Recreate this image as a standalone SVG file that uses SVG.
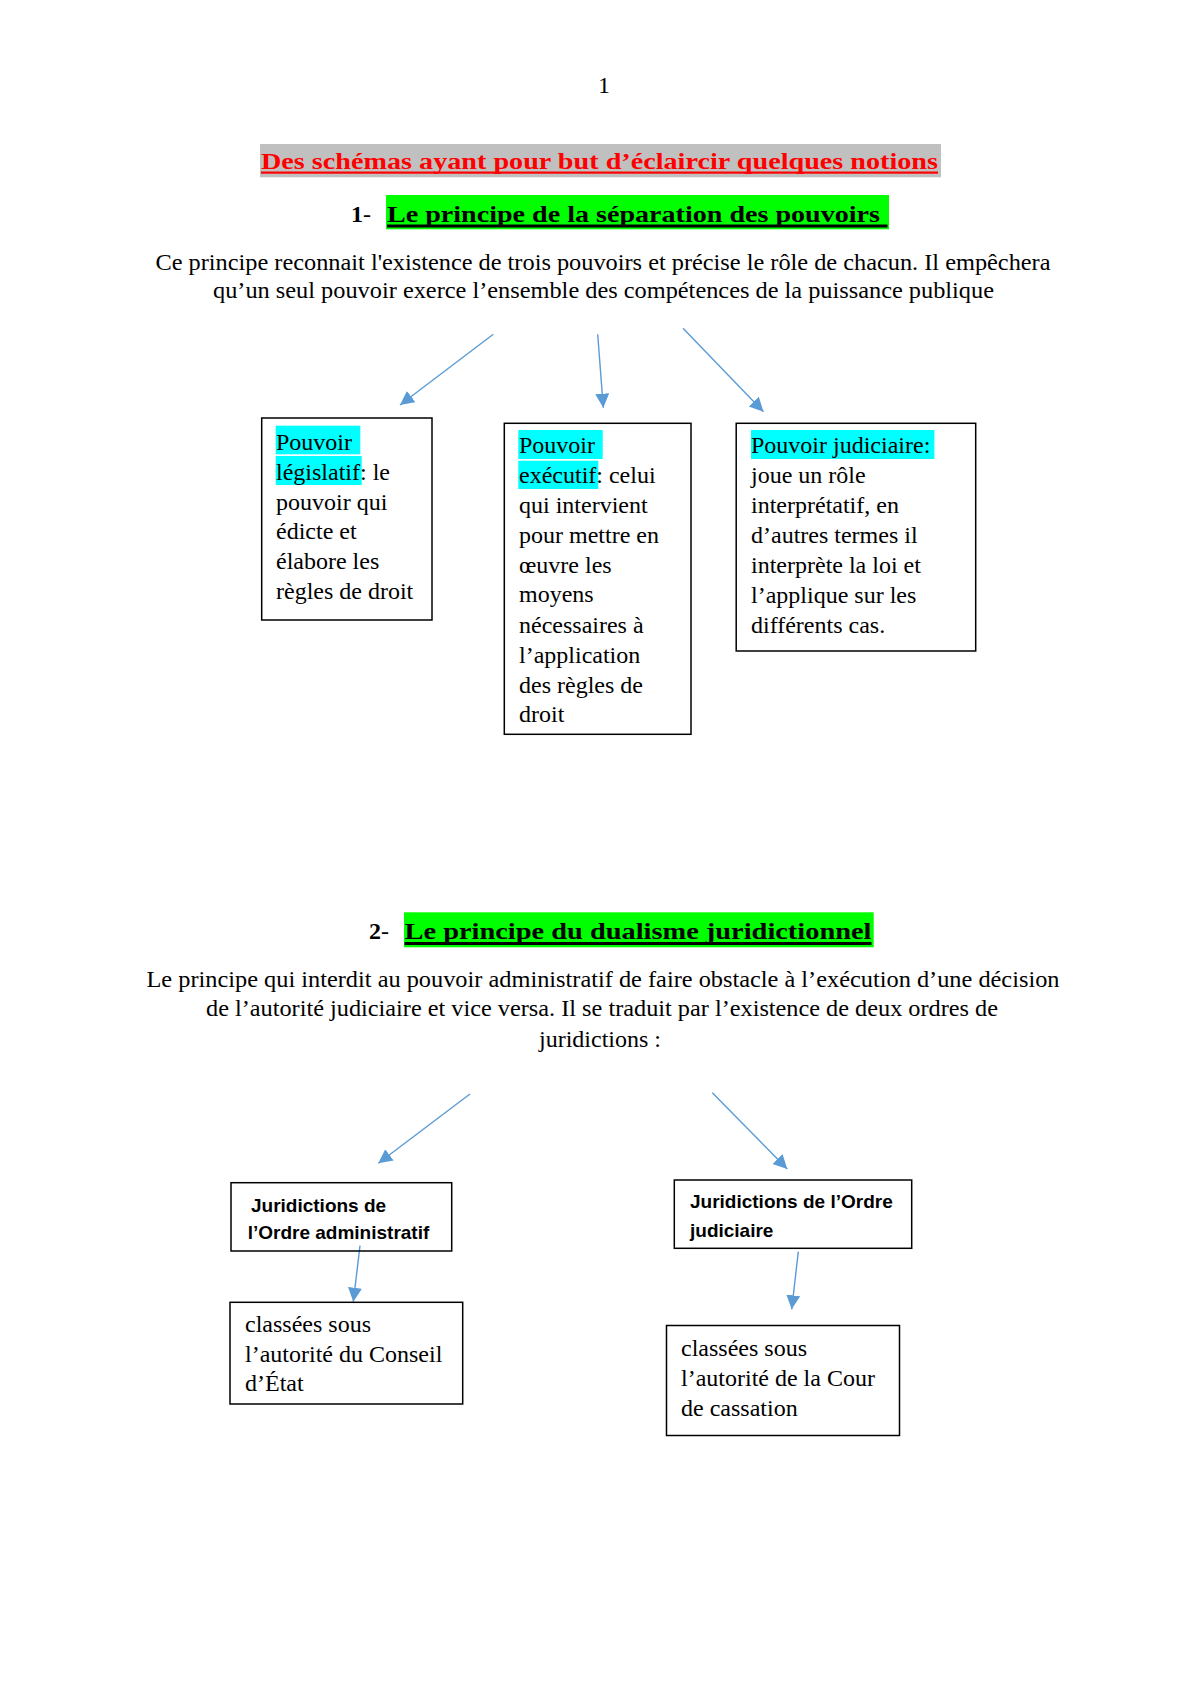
<svg xmlns="http://www.w3.org/2000/svg" width="1200" height="1698" viewBox="0 0 1200 1698">
<style>
.serif{font-family:"Liberation Serif","Times New Roman",serif;font-size:24px;fill:#000}
.bold{font-weight:bold}
.sans{font-family:"Liberation Sans",Arial,sans-serif;font-size:19px;font-weight:bold;fill:#000}
.box{fill:none;stroke:#000;stroke-width:1.5}
.hl{fill:#00FFFF}
.conn{stroke:#5B9BD5;stroke-width:1.4;fill:none;marker-end:url(#ah)}
</style>
<defs>
<marker id="ah" markerUnits="userSpaceOnUse" markerWidth="16" markerHeight="16" refX="14" refY="7" orient="auto">
<path d="M0,0 L14,7 L0,14 z" fill="#5B9BD5"/>
</marker>
</defs>
<rect width="1200" height="1698" fill="#fff"/>

<text class="serif" x="604" y="93" font-size="19" text-anchor="middle">1</text>

<g id="title">
<rect x="260" y="144" width="681" height="33.3" fill="#C0C0C0"/>
<text class="serif bold" x="261" y="169" style="fill:#FF0000" font-size="25" textLength="677" lengthAdjust="spacingAndGlyphs">Des schémas ayant pour but d’éclaircir quelques notions</text>
<rect x="261" y="171.5" width="677" height="2.2" fill="#FF0000"/>
</g>

<g id="heading1">
<text class="serif bold" x="351" y="221.5" font-size="26">1<tspan font-weight="normal">-</tspan></text>
<rect x="386" y="195" width="503" height="34.3" fill="#00FF00"/>
<text class="serif bold" x="387" y="221.5" font-size="26" textLength="493" lengthAdjust="spacingAndGlyphs">Le principe de la séparation des pouvoirs</text>
<rect x="387" y="224.5" width="500.5" height="3" fill="#000"/>
</g>

<g id="para1">
<text class="serif" x="603" y="269.5" text-anchor="middle" textLength="895" lengthAdjust="spacingAndGlyphs">Ce principe reconnait l'existence de trois pouvoirs et précise le rôle de chacun. Il empêchera</text>
<text class="serif" x="603.5" y="298" text-anchor="middle" textLength="781" lengthAdjust="spacingAndGlyphs">qu’un seul pouvoir exerce l’ensemble des compétences de la puissance publique</text>
</g>

<g id="connectors">
<line class="conn" x1="493.3" y1="334.3" x2="400" y2="405"/>
<line class="conn" x1="597.7" y1="334.3" x2="603.3" y2="407.7"/>
<line class="conn" x1="683" y1="328.3" x2="763.5" y2="411.7"/>
<line class="conn" x1="470" y1="1094" x2="378.3" y2="1163.3"/>
<line class="conn" x1="712.3" y1="1092.7" x2="787.3" y2="1169"/>
<line class="conn" x1="360" y1="1245.7" x2="353.3" y2="1301.7"/>
<line class="conn" x1="798.3" y1="1251.7" x2="791.7" y2="1309.3"/>
</g>

<g id="legislatif">
<rect class="box" x="261.7" y="418" width="170.3" height="202"/>
<rect class="hl" x="275.7" y="425.7" width="84.6" height="28.6"/>
<rect class="hl" x="275.7" y="456" width="86" height="29"/>
<text class="serif">
<tspan x="276" y="450">Pouvoir</tspan>
<tspan x="276" y="480">législatif: le</tspan>
<tspan x="276" y="509.7">pouvoir qui</tspan>
<tspan x="276" y="539.4">édicte et</tspan>
<tspan x="276" y="569.1">élabore les</tspan>
<tspan x="276" y="598.5">règles de droit</tspan>
</text>
</g>

<g id="executif">
<rect class="box" x="504.3" y="423.3" width="186.7" height="311"/>
<rect class="hl" x="518.3" y="430" width="84.4" height="29"/>
<rect class="hl" x="518.3" y="460.7" width="80" height="28.3"/>
<text class="serif">
<tspan x="519" y="453">Pouvoir</tspan>
<tspan x="519" y="483">exécutif: celui</tspan>
<tspan x="519" y="513">qui intervient</tspan>
<tspan x="519" y="542.7">pour mettre en</tspan>
<tspan x="519" y="572.5">œuvre les</tspan>
<tspan x="519" y="602.3">moyens</tspan>
<tspan x="519" y="632.5">nécessaires à</tspan>
<tspan x="519" y="662.5">l’application</tspan>
<tspan x="519" y="692.5">des règles de</tspan>
<tspan x="519" y="721.7">droit</tspan>
</text>
</g>

<g id="judiciaire">
<rect class="box" x="736.2" y="423.3" width="239.5" height="227.7"/>
<rect class="hl" x="751" y="430" width="183.4" height="29"/>
<text class="serif">
<tspan x="751" y="453.3">Pouvoir judiciaire:</tspan>
<tspan x="751" y="483.3">joue un rôle</tspan>
<tspan x="751" y="513.3">interprétatif, en</tspan>
<tspan x="751" y="543.3">d’autres termes il</tspan>
<tspan x="751" y="573.3">interprète la loi et</tspan>
<tspan x="751" y="603">l’applique sur les</tspan>
<tspan x="751" y="632.7">différents cas.</tspan>
</text>
</g>

<g id="heading2">
<text class="serif bold" x="369" y="939" font-size="26">2<tspan font-weight="normal">-</tspan></text>
<rect x="404" y="912.3" width="469.7" height="35" fill="#00FF00"/>
<text class="serif bold" x="404.5" y="939" font-size="26" textLength="467" lengthAdjust="spacingAndGlyphs">Le principe du dualisme juridictionnel</text>
<rect x="404.5" y="942" width="467" height="3" fill="#000"/>
</g>

<g id="para2">
<text class="serif" x="603" y="986.7" text-anchor="middle" textLength="913" lengthAdjust="spacingAndGlyphs">Le principe qui interdit au pouvoir administratif de faire obstacle à l’exécution d’une décision</text>
<text class="serif" x="602" y="1016" text-anchor="middle" textLength="792" lengthAdjust="spacingAndGlyphs">de l’autorité judiciaire et vice versa. Il se traduit par l’existence de deux ordres de</text>
<text class="serif" x="600" y="1046.7" text-anchor="middle">juridictions :</text>
</g>

<g id="ordre-administratif">
<rect class="box" x="231" y="1182.7" width="220.7" height="68.3"/>
<text class="sans">
<tspan x="251" y="1211.7">Juridictions de</tspan>
<tspan x="247.7" y="1239.3">l’Ordre administratif</tspan>
</text>
</g>

<g id="ordre-judiciaire">
<rect class="box" x="674.3" y="1180" width="237.4" height="68.3"/>
<text class="sans">
<tspan x="690" y="1208.3">Juridictions de l’Ordre</tspan>
<tspan x="690" y="1236.7">judiciaire</tspan>
</text>
</g>

<g id="conseil-etat">
<rect class="box" x="230" y="1302.3" width="232.7" height="101.7"/>
<text class="serif">
<tspan x="245" y="1331.7">classées sous</tspan>
<tspan x="245" y="1362">l’autorité du Conseil</tspan>
<tspan x="245" y="1390.7">d’État</tspan>
</text>
</g>

<g id="cour-cassation">
<rect class="box" x="666.5" y="1325.5" width="233" height="110"/>
<text class="serif">
<tspan x="681" y="1355.5">classées sous</tspan>
<tspan x="681" y="1385.5">l’autorité de la Cour</tspan>
<tspan x="681" y="1415.5">de cassation</tspan>
</text>
</g>
</svg>
